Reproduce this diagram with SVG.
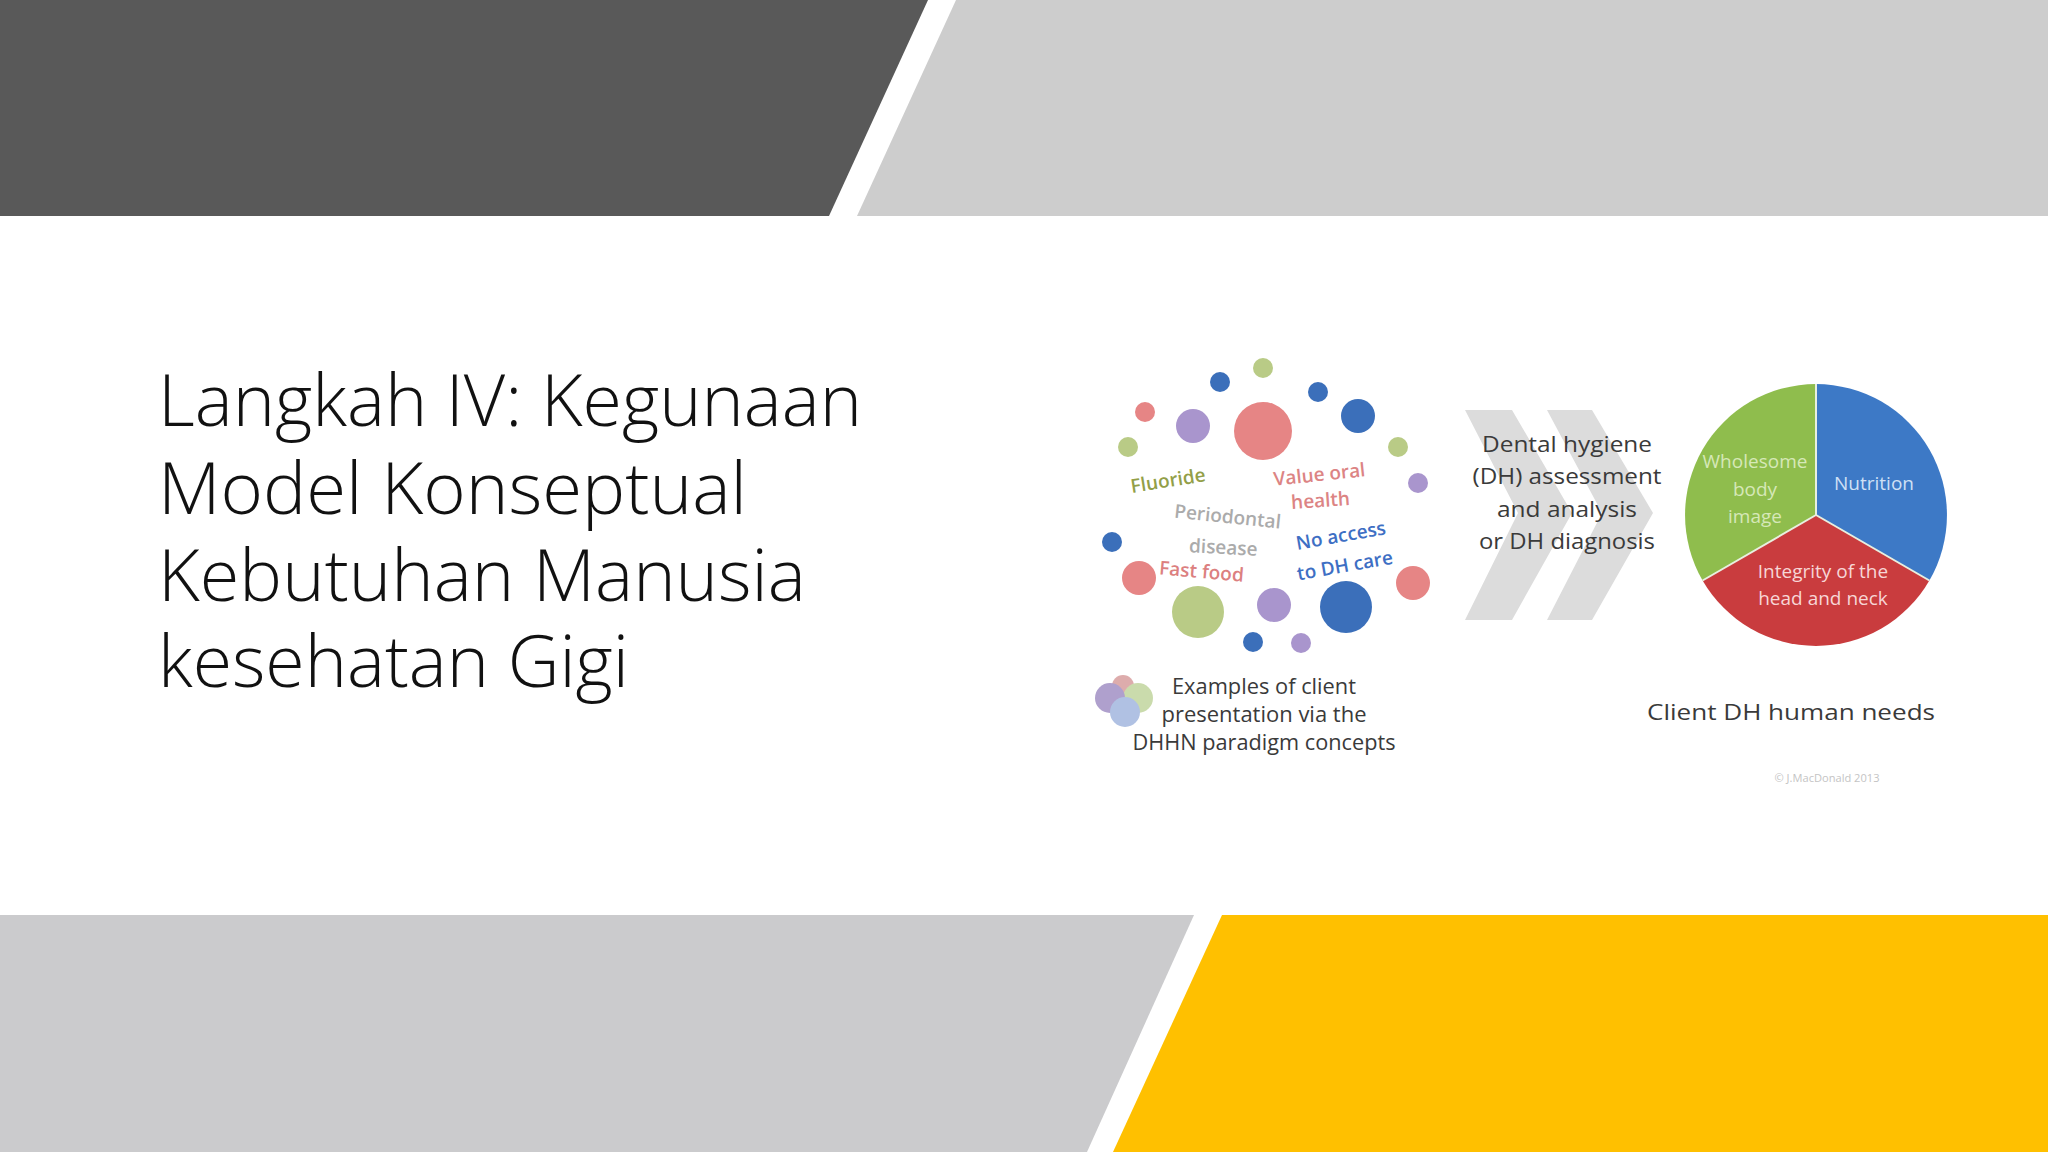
<svg xmlns="http://www.w3.org/2000/svg" width="2048" height="1152" viewBox="0 0 2048 1152">
<style>
.title{font-family:"Open Sans","Liberation Sans",sans-serif;font-weight:300;font-size:72px;fill:#111}
.cap{font-family:"Open Sans","Liberation Sans",sans-serif;font-size:22px;fill:#3a3a3a;text-anchor:middle}
.bub{font-family:"Open Sans","Liberation Sans",sans-serif;font-size:19px;font-weight:600;text-anchor:middle}
.pie{font-family:"Open Sans","Liberation Sans",sans-serif;font-size:19px;text-anchor:middle}
.copy{font-family:"Open Sans","Liberation Sans",sans-serif;font-size:10px;fill:#c4c4c4;text-anchor:middle}
.g{fill:#b9cb86}.b{fill:#3b6fba}.p{fill:#e68585}.v{fill:#a995cd}
</style>
<rect width="2048" height="1152" fill="#ffffff"/>
<g id="banner-top">
<polygon points="0,0 928,0 829,216 0,216" fill="#595959"/>
<polygon points="956,0 2048,0 2048,216 857,216" fill="#cdcdcd"/>
</g>
<g id="banner-bottom">
<polygon points="0,915 1194,915 1087,1152 0,1152" fill="#cbcbcd"/>
<polygon points="1222,915 2048,915 2048,1152 1113,1152" fill="#ffc000"/>
</g>
<g id="title">
<text class="title" x="158" y="426" textLength="704" lengthAdjust="spacingAndGlyphs">Langkah IV: Kegunaan</text>
<text class="title" x="158" y="514" textLength="589" lengthAdjust="spacingAndGlyphs">Model Konseptual</text>
<text class="title" x="158" y="601" textLength="648" lengthAdjust="spacingAndGlyphs">Kebutuhan Manusia</text>
<text class="title" x="158" y="687" textLength="471" lengthAdjust="spacingAndGlyphs">kesehatan Gigi</text>
</g>
<g id="bubbles">
<circle class="g" cx="1263" cy="368" r="10"/>
<circle class="b" cx="1220" cy="382" r="10"/>
<circle class="b" cx="1318" cy="392" r="10"/>
<circle class="b" cx="1358" cy="416" r="17"/>
<circle class="p" cx="1145" cy="412" r="10"/>
<circle class="v" cx="1193" cy="426" r="17"/>
<circle class="p" cx="1263" cy="431" r="29"/>
<circle class="g" cx="1128" cy="447" r="10"/>
<circle class="g" cx="1398" cy="447" r="10"/>
<circle class="v" cx="1418" cy="483" r="10"/>
<circle class="b" cx="1112" cy="542" r="10"/>
<circle class="p" cx="1139" cy="578" r="17"/>
<circle class="p" cx="1413" cy="583" r="17"/>
<circle class="g" cx="1198" cy="612" r="26"/>
<circle class="v" cx="1274" cy="605" r="17"/>
<circle class="b" cx="1346" cy="607" r="26"/>
<circle class="b" cx="1253" cy="642" r="10"/>
<circle class="v" cx="1301" cy="643" r="10"/>
<text class="bub" fill="#939f48" transform="translate(1169,487) rotate(-9)">Fluoride</text>
<text class="bub" fill="#dc8484" transform="translate(1320,481) rotate(-6)">Value oral</text>
<text class="bub" fill="#dc8484" transform="translate(1321,507) rotate(-4)">health</text>
<text class="bub" fill="#ababab" transform="translate(1227,523) rotate(6)">Periodontal</text>
<text class="bub" fill="#ababab" transform="translate(1223,554) rotate(3)">disease</text>
<text class="bub" fill="#3e6fc4" transform="translate(1342,542) rotate(-10)">No access</text>
<text class="bub" fill="#3e6fc4" transform="translate(1346,572) rotate(-10)">to DH care</text>
<text class="bub" fill="#dc8080" transform="translate(1201,578) rotate(5)">Fast food</text>
</g>
<g id="caption-left">
<g opacity="0.7">
<circle cx="1123" cy="686" r="11" fill="#d08a8a"/>
<circle cx="1138" cy="698" r="15" fill="#b5cc8a"/>
<circle cx="1110" cy="698" r="15" fill="#8e78b8"/>
<circle cx="1125" cy="712" r="15" fill="#8fa8d8"/>
</g>
<text class="cap" x="1264" y="694" textLength="184" lengthAdjust="spacingAndGlyphs">Examples of client</text>
<text class="cap" x="1264" y="722" textLength="205" lengthAdjust="spacingAndGlyphs">presentation via the</text>
<text class="cap" x="1264" y="750" textLength="263" lengthAdjust="spacingAndGlyphs">DHHN paradigm concepts</text>
</g>
<g id="connectors">
<polygon points="1465,410 1512,410 1572,513 1512,620 1465,620 1518,513" fill="#dcdcdc"/>
<polygon points="1547,410 1592,410 1653,513 1592,620 1547,620 1602,513" fill="#dcdcdc"/>
</g>
<g id="assessment">
<text class="cap" font-size="23" x="1567" y="452" textLength="170" lengthAdjust="spacingAndGlyphs">Dental  hygiene</text>
<text class="cap" font-size="23" x="1567" y="484" textLength="189" lengthAdjust="spacingAndGlyphs">(DH)  assessment</text>
<text class="cap" font-size="23" x="1567" y="517" textLength="140" lengthAdjust="spacingAndGlyphs">and  analysis</text>
<text class="cap" font-size="23" x="1567" y="549" textLength="176" lengthAdjust="spacingAndGlyphs">or DH  diagnosis</text>
</g>
<g id="pie">
<path d="M1816,515 L1816,384 A131,131 0 0 1 1929.4,580.5 Z" fill="#3d79c6"/>
<path d="M1816,515 L1929.4,580.5 A131,131 0 0 1 1702.6,580.5 Z" fill="#c93c3e"/>
<path d="M1816,515 L1702.6,580.5 A131,131 0 0 1 1816,384 Z" fill="#8fbd4d"/>
<g stroke="#e8efe0" stroke-width="2">
<line x1="1816" y1="515" x2="1816" y2="384"/>
<line x1="1816" y1="515" x2="1929.4" y2="580.5"/>
<line x1="1816" y1="515" x2="1702.6" y2="580.5"/>
</g>
<text class="pie" fill="#d6e8b8" x="1755" y="468">Wholesome</text>
<text class="pie" fill="#d6e8b8" x="1755" y="496">body</text>
<text class="pie" fill="#d6e8b8" x="1755" y="523">image</text>
<text class="pie" fill="#cfe0f5" x="1874" y="490">Nutrition</text>
<text class="pie" fill="#f7d6d6" x="1823" y="578">Integrity of the</text>
<text class="pie" fill="#f7d6d6" x="1823" y="605">head and neck</text>
</g>
<g id="caption-right">
<text class="cap" font-size="27" x="1791" y="720" textLength="288" lengthAdjust="spacingAndGlyphs">Client DH human needs</text>
<text class="copy" x="1827" y="782" textLength="105" lengthAdjust="spacingAndGlyphs">© J.MacDonald 2013</text>
</g>
</svg>
